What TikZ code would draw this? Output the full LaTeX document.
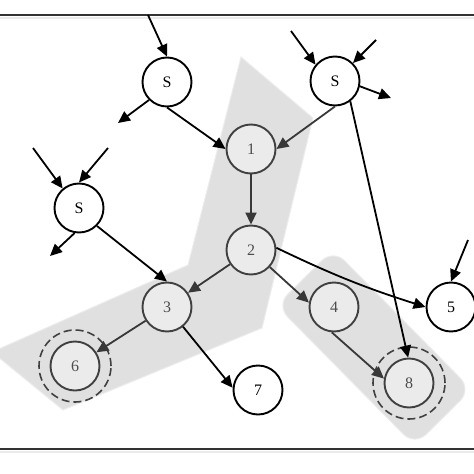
\documentclass[tikz,border=0pt]{standalone}
\usepackage{fontspec}
\setmainfont{Liberation Serif}
\usetikzlibrary{arrows.meta,shapes.geometric}
\begin{document}
\begin{tikzpicture}[x=1pt,y=-1pt,
  lbl/.style={font=\fontsize{16}{16}\selectfont},
  wnode/.style={circle,draw=black,line width=1.9pt,fill=white,minimum size=49pt,inner sep=0pt,lbl},
  gnode/.style={circle,draw=black!75,line width=1.9pt,fill=black!8,minimum size=49pt,inner sep=0pt,text=black!70,lbl},
  ring/.style={circle,draw=black!75,line width=1.6pt,dash pattern=on 8pt off 4pt,minimum size=72pt,inner sep=0pt},
  barr/.style={line width=1.8pt,draw=black,-{Triangle[length=12pt,width=11pt]}},
  garr/.style={line width=1.8pt,draw=black!78,-{Triangle[length=12pt,width=11pt]}},
  region/.style={fill=black!12,draw=black!7,line width=1pt},
  rule/.style={line width=2pt,draw=black!80},
  ruleshadow/.style={line width=2pt,draw=black!8}]
\useasboundingbox (0,0) rectangle (474,474);
% frame rules
\draw[ruleshadow] (0,17.5) -- (474,17.5);
\draw[rule] (0,15) -- (474,15);
\draw[ruleshadow] (0,451.5) -- (474,451.5);
\draw[rule] (0,449) -- (474,449);
% gray regions
\begin{scope}
\clip (0,0) rectangle (474,474);
\path[region] (241,57) -- (313,118) -- (262,328) -- (63,410) -- (-8,352) -- (188,265) -- cycle;
\end{scope}
\begin{scope}[shift={(371.5,345)},rotate=-45.4]
\path[region,rounded corners=16pt] (-95,-40) rectangle (102,40);
\end{scope}
% rings
\node[ring] (r6) at (75,366) {};
\node[ring] (r8) at (409,383) {};
% nodes
\node[wnode] (sT) at (167,82) {S};
\node[wnode] (sR) at (335,81) {S};
\node[wnode] (sL) at (79,208) {S};
\node[gnode] (n1) at (251,149) {1};
\node[gnode] (n2) at (251,250) {2};
\node[gnode] (n3) at (167,307) {3};
\node[gnode] (n4) at (334,307) {4};
\node[wnode] (n5) at (451,307) {5};
\node[gnode] (n6) at (75,366) {6};
\node[wnode] (n7) at (258,390) {7};
\node[gnode] (n8) at (409,383) {8};
% free ends
\coordinate (iT) at (148,15);
\coordinate (oT) at (118,123);
\coordinate (iR1) at (291,31);
\coordinate (iR2) at (376,40);
\coordinate (oR) at (391,98);
\coordinate (iL1) at (33,148);
\coordinate (iL2) at (108,148);
\coordinate (oL) at (50,256);
\coordinate (i5) at (468,240);
% connectors
\draw[barr] (iT) -- (sT.north);
\draw[barr] (sT.-135) -- (oT);
\draw[barr] (sT.south) -- (n1.west);
\draw[barr] (iR1) -- (sR.140);
\draw[barr] (iR2) -- (sR.45);
\draw[barr] (sR.-12) -- (oR);
\draw[garr] (sR.south) -- (n1.east);
\draw[barr] (sR.-53) -- (n8.92);
\draw[barr] (iL1) -- (sL.130);
\draw[barr] (iL2) -- (sL.north);
\draw[barr] (sL.-100) -- (oL);
\draw[barr] (sL.-45) -- (n3.north);
\draw[garr] (n1) -- (n2);
\draw[garr] (n2) -- (n3);
\draw[garr] (n2) -- (n4.170);
\draw[barr] (n2.5) to[bend right=4] (n5.west);
\draw[garr] (n3) -- (n6);
\draw[barr] (n3) -- (n7.175);
\draw[garr] (n4.-95) -- (n8.170);
\draw[barr] (i5) -- (n5.north);
\end{tikzpicture}
\end{document}
